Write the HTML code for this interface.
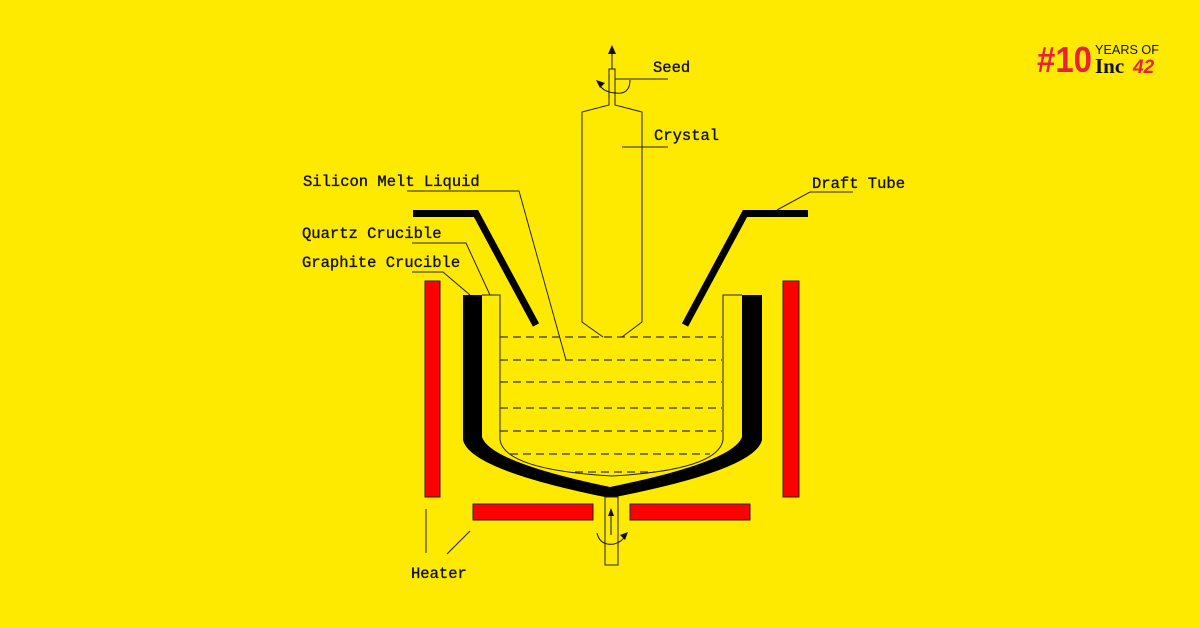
<!DOCTYPE html>
<html><head><meta charset="utf-8"><style>
html,body{margin:0;padding:0;background:#feea00;}
svg{display:block}
text{font-family:"Liberation Mono",monospace;font-size:15.5px;fill:#111;stroke:#111;stroke-width:0.35;}
</style></head><body>
<svg width="1200" height="628" viewBox="0 0 1200 628" xmlns="http://www.w3.org/2000/svg">
<rect width="1200" height="628" fill="#feea00"/>
<g fill="#f00" stroke="#222" stroke-width="1">
<rect x="425" y="281" width="15" height="216"/>
<rect x="783" y="281" width="16" height="216"/>
<rect x="473" y="504" width="120" height="16"/>
<rect x="630" y="504" width="120" height="16"/>
</g>
<path d="M463,295 H482 V437 Q490,462 610,487 Q733,462 742,437 V295 H762 V440 Q755,470 610,498 Q470,470 463,440 Z" fill="#000"/>
<path d="M482,295 H500 V440 Q505,470 612,476 Q718,470 723,440 V295 H742" fill="none" stroke="#222" stroke-width="1"/>
<g stroke="#333" stroke-width="1.2" stroke-dasharray="8,5">
<line x1="500" y1="337" x2="722" y2="337"/>
<line x1="500" y1="360" x2="722" y2="360"/>
<line x1="500" y1="382" x2="722" y2="382"/>
<line x1="500" y1="408" x2="722" y2="408"/>
<line x1="500" y1="431" x2="722" y2="431"/>
<line x1="510" y1="454" x2="710" y2="454"/>
<line x1="575" y1="472" x2="655" y2="472"/>
</g>
<path d="M603,337 L582,322 V112 L609,105 V69 H615 V105 L642,112 V322 L622,337" fill="none" stroke="#222" stroke-width="1"/>
<line x1="612" y1="69" x2="612" y2="52" stroke="#111" stroke-width="1"/>
<path d="M612,45 L608,54 L616,54 Z" fill="#111"/>
<path d="M630,80 Q630,95 615,93 Q603,92 599,84" fill="none" stroke="#111" stroke-width="1"/>
<path d="M596,80 L605,83 L600,88 Z" fill="#111"/>
<line x1="615" y1="79" x2="668" y2="79" stroke="#222"/>
<line x1="622" y1="147" x2="668" y2="147" stroke="#222"/>
<g stroke="#000" fill="none" stroke-width="7">
<path d="M413,213.5 H476 L536,325"/>
<path d="M808,213.5 H745 L685,325"/>
</g>
<g stroke="#222" stroke-width="1" fill="none">
<path d="M407,191 H519 L566,360"/>
<path d="M412,243 H466 L490,295"/>
<path d="M412,272 H443 L470,295"/>
<path d="M853,192 H810 L777,210"/>
<line x1="426" y1="509" x2="426" y2="553"/>
<line x1="470" y1="531" x2="447" y2="554"/>
</g>
<rect x="605" y="497" width="13" height="68" fill="#feea00" stroke="#222"/>
<line x1="611" y1="535" x2="611" y2="514" stroke="#111"/>
<path d="M611,508 L608,516 L614,516 Z" fill="#111"/>
<path d="M597,533 Q600,546 614,544 Q622,542 625,536" fill="none" stroke="#111"/>
<path d="M628,532 L620,535 L625,540 Z" fill="#111"/>
<text x="653" y="72">Seed</text>
<text x="654" y="140">Crystal</text>
<text x="303" y="186">Silicon Melt Liquid</text>
<text x="812" y="188">Draft Tube</text>
<text x="302" y="238">Quartz Crucible</text>
<text x="302" y="267">Graphite Crucible</text>
<text x="411" y="578">Heater</text>
<text x="1037" y="72" textLength="55" lengthAdjust="spacingAndGlyphs" style="font-family:'Liberation Sans',sans-serif;font-weight:bold;font-size:36px;fill:#e8203a;stroke:none">#10</text>
<text x="1095" y="54" textLength="64" lengthAdjust="spacingAndGlyphs" style="font-family:'Liberation Sans',sans-serif;font-size:13px;fill:#111;stroke:none">YEARS OF</text>
<text x="1095" y="73" style="font-family:'Liberation Serif',serif;font-weight:bold;font-size:21px;fill:#111;stroke:none">Inc</text>
<text x="1133" y="73" style="font-family:'Liberation Sans',sans-serif;font-weight:bold;font-size:19px;fill:#e8203a;font-style:italic;stroke:none">42</text>
</svg>
</body></html>
